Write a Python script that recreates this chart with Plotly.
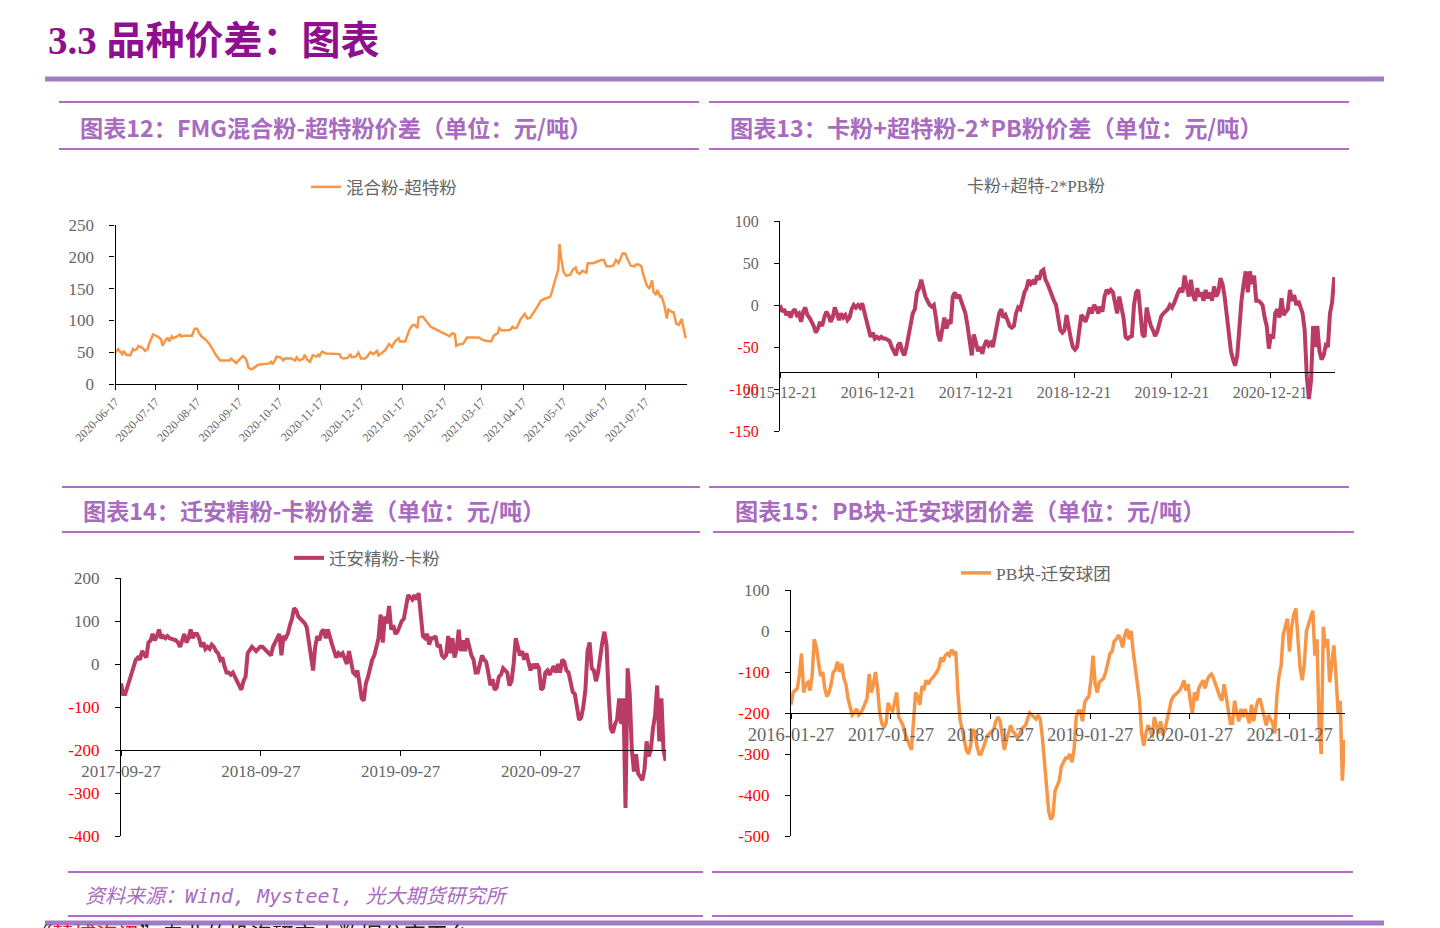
import plotly.graph_objects as go
import pandas as pd

W, H = 1440, 928


def px(x):
    return x / W


def py(y):
    return 1 - y / H


# ---------------- data ----------------
# Chart 12: FMG混合粉-超特粉
c12_dates = [
    "2020-06-17", "2020-06-19", "2020-06-20", "2020-06-22", "2020-06-23", "2020-06-25", "2020-06-28", "2020-06-30",
    "2020-07-01", "2020-07-03", "2020-07-04", "2020-07-07", "2020-07-09", "2020-07-11", "2020-07-12", "2020-07-14",
    "2020-07-15", "2020-07-19", "2020-07-21", "2020-07-22", "2020-07-24", "2020-07-26", "2020-07-27", "2020-07-29",
    "2020-07-30", "2020-08-02", "2020-08-04", "2020-08-05", "2020-08-08", "2020-08-13", "2020-08-15", "2020-08-17",
    "2020-08-18", "2020-08-20", "2020-08-23", "2020-08-26", "2020-08-28", "2020-08-31", "2020-09-03", "2020-09-06",
    "2020-09-10", "2020-09-11", "2020-09-13", "2020-09-15", "2020-09-18", "2020-09-20", "2020-09-22", "2020-09-23",
    "2020-09-24", "2020-09-26", "2020-09-28", "2020-10-01", "2020-10-04", "2020-10-09", "2020-10-11", "2020-10-12",
    "2020-10-14", "2020-10-15", "2020-10-18", "2020-10-20", "2020-10-21", "2020-10-26", "2020-10-29", "2020-10-30",
    "2020-11-01", "2020-11-04", "2020-11-05", "2020-11-07", "2020-11-09", "2020-11-11", "2020-11-14", "2020-11-15",
    "2020-11-16", "2020-11-18", "2020-11-21", "2020-11-26", "2020-12-01", "2020-12-02", "2020-12-04", "2020-12-07",
    "2020-12-09", "2020-12-10", "2020-12-13", "2020-12-15", "2020-12-17", "2020-12-20", "2020-12-22", "2020-12-24",
    "2020-12-26", "2020-12-29", "2020-12-30", "2021-01-01", "2021-01-04", "2021-01-06", "2021-01-07", "2021-01-09",
    "2021-01-11", "2021-01-14", "2021-01-15", "2021-01-19", "2021-01-22", "2021-01-24", "2021-01-26", "2021-01-28",
    "2021-01-29", "2021-02-01", "2021-02-03", "2021-02-05", "2021-02-07", "2021-02-09", "2021-02-12", "2021-02-15",
    "2021-02-18", "2021-02-21", "2021-02-23", "2021-02-25", "2021-02-26", "2021-02-28", "2021-03-03", "2021-03-04",
    "2021-03-06", "2021-03-10", "2021-03-15", "2021-03-17", "2021-03-20", "2021-03-24", "2021-03-26", "2021-03-29",
    "2021-03-30", "2021-04-01", "2021-04-04", "2021-04-07", "2021-04-09", "2021-04-10", "2021-04-12", "2021-04-15",
    "2021-04-18", "2021-04-20", "2021-04-22", "2021-04-25", "2021-04-27", "2021-04-29", "2021-04-30", "2021-05-03",
    "2021-05-07", "2021-05-08", "2021-05-10", "2021-05-11", "2021-05-13", "2021-05-14", "2021-05-15", "2021-05-17",
    "2021-05-19", "2021-05-22", "2021-05-24", "2021-05-26", "2021-05-27", "2021-05-29", "2021-05-31", "2021-06-03",
    "2021-06-04", "2021-06-08", "2021-06-11", "2021-06-14", "2021-06-16", "2021-06-18", "2021-06-21", "2021-06-23",
    "2021-06-25", "2021-06-27", "2021-06-30", "2021-07-02", "2021-07-04", "2021-07-06", "2021-07-09", "2021-07-10",
    "2021-07-12", "2021-07-14", "2021-07-15", "2021-07-17", "2021-07-18", "2021-07-20", "2021-07-22", "2021-07-23",
    "2021-07-25", "2021-07-26", "2021-07-28", "2021-07-29", "2021-07-31", "2021-08-02", "2021-08-03", "2021-08-06",
    "2021-08-07", "2021-08-09", "2021-08-11", "2021-08-13", "2021-08-14", "2021-08-16",
]
c12_values = [
    50, 55, 52, 47, 52, 46, 45, 55,
    53, 55, 60, 57, 52, 55, 63, 75,
    78, 74, 70, 60, 68, 73, 67, 75,
    72, 75, 78, 75, 76, 76, 87, 87,
    81, 75, 70, 63, 55, 45, 37, 37,
    37, 40, 37, 33, 40, 44, 40, 35,
    26, 23, 25, 30, 31, 32, 35, 31,
    38, 43, 42, 37, 40, 40, 37, 42,
    37, 40, 46, 38, 35, 45, 43, 46,
    44, 51, 48, 47, 47, 42, 40, 41,
    47, 42, 43, 49, 40, 40, 44, 50,
    47, 52, 45, 48, 53, 60, 63, 58,
    66, 72, 67, 67, 85, 92, 93, 88,
    105, 106, 101, 95, 90, 88, 85, 82,
    78, 75, 80, 78, 60, 62, 63, 66,
    73, 73, 73, 70, 68, 67, 76, 80,
    88, 84, 84, 85, 90, 88, 88, 102,
    110, 103, 104, 115, 120, 127, 131, 134,
    137, 143, 158, 166, 180, 220, 200, 176,
    170, 172, 180, 183, 176, 173, 178, 175,
    190, 190, 193, 195, 195, 185, 185, 186,
    195, 190, 205, 205, 195, 186, 185, 188,
    188, 185, 175, 160, 155, 150, 163, 145,
    140, 148, 137, 138, 125, 103, 117, 113,
    113, 95, 93, 102, 90, 72,
]
c12_ticks = ["2020-06-17", "2020-07-17", "2020-08-17", "2020-09-17", "2020-10-17", "2020-11-17", "2020-12-17",
             "2021-01-17", "2021-02-17", "2021-03-17", "2021-04-17", "2021-05-17", "2021-06-17", "2021-07-17"]

# Chart 13: 卡粉+超特-2*PB粉 (roughly weekly readings)
c13_start, c13_end = "2015-12-21", "2021-08-17"
c13_values = [
    0, -8, -5, -12, -8, -15, -8, -5, -12, -10, -20, -8, -3, -12, -15, -20, -25, -33, -28, -20,
    -25, -15, -8, -12, -20, -15, -3, -10, -18, -10, -15, -12, -18, -15, -5, 0, -3, 0, -3, 2,
    -8, -20, -30, -38, -33, -40, -38, -40, -38, -40, -40, -42, -43, -50, -55, -60, -48, -45, -55, -60,
    -50, -35, -20, -10, -5, 15, 20, 30, 20, 10, 5, 0, -2, 0, -15, -35, -43, -30, -15, -28,
    -20, -22, 10, 15, 8, 12, 5, -5, -10, -25, -40, -60, -35, -45, -55, -50, -58, -48, -42, -48,
    -45, -50, -35, -20, -10, -5, -15, -12, -20, -25, -27, -25, -10, -3, -5, 5, 15, 20, 30, 25,
    28, 25, 35, 30, 40, 42, 30, 25, 18, 10, 5, 0, -15, -30, -33, -30, -12, -30, -40, -50,
    -53, -50, -30, -12, -15, -20, -12, -3, -10, 0, -3, -10, -2, -8, 10, 18, 15, 18, 15, 0,
    -10, 10, -5, -15, -38, -40, -38, -37, 0, 15, 18, -5, -35, -38, -3, -15, -25, -30, -37, -32,
    -20, -13, -10, -8, -5, 0, -3, 2, 10, 15, 20, 15, 35, 20, 10, 30, 12, 5, 20, 10,
    15, 5, 18, 8, 15, 5, 22, 10, 15, 32, 25, 10, -15, -40, -55, -65, -72, -60, -20, 5,
    25, 40, 15, 40, 25, 35, 5, 5, 3, 0, -15, -25, -52, -35, -40, -10, -5, -15, 8, -12,
    -8, -5, 18, 5, 12, 0, 5, -3, -10, -30, -85, -112, -90, -25, -50, -25, -55, -65, -60, -48,
    -50, -10, 3, 33,
]
c13_ticks = ["2015-12-21", "2016-12-21", "2017-12-21", "2018-12-21", "2019-12-21", "2020-12-21"]
c13_cross = -80

# Chart 14: 迁安精粉-卡粉 (roughly weekly readings)
c14_start, c14_end = "2017-09-27", "2021-08-19"
c14_values = [
    -45, -70, -70, -55, -35, -25, -5, 10, 15, 10, 30, 20, 15, 50, 55, 70, 55, 65, 80, 60,
    65, 60, 65, 60, 58, 55, 55, 50, 40, 55, 70, 50, 60, 80, 60, 70, 70, 60, 40, 50,
    35, 40, 35, 45, 40, 30, 25, 10, 15, -5, -20, -20, -25, -20, -30, -40, -55, -60, -40, -30,
    25, 35, 40, 35, 30, 35, 40, 40, 35, 30, 25, 20, 40, 50, 55, 70, 20, 65, 60, 70,
    90, 105, 130, 125, 110, 105, 100, 95, 85, 50, 20, -15, 40, 65, 55, 75, 80, 60, 80, 60,
    45, 30, 15, 25, 20, 25, 10, 0, 30, 0, -20, -25, -15, -45, -80, -85, -45, -30, -10, 10,
    20, 45, 60, 115, 50, 110, 95, 135, 80, 90, 70, 75, 90, 100, 105, 130, 160, 155, 150, 160,
    150, 165, 110, 65, 60, 70, 45, 60, 60, 65, 40, 45, 20, 15, 20, 65, 25, 60, 15, 35,
    80, 30, 55, 30, 60, 40, 20, 10, -20, -20, 0, 20, 10, 5, -20, -50, -35, -60, -55, -30,
    -25, -10, -15, -20, -50, -40, 0, 60, 40, 20, 30, 10, 25, 5, -15, 0, -10, 0, -10, -60,
    -55, -20, -15, -25, -15, -5, -20, 0, -20, 10, 5, -15, -20, -40, -65, -70, -100, -130, -125, -100,
    -60, 30, 50, -10, -15, -40, -20, 20, 50, 75, 45, -70, -150, -160, -140, -130, -80, -140, -80, -335,
    -10, -70, -200, -250, -210, -255, -265, -270, -245, -180, -215, -200, -150, -120, -50, -180, -80, -200, -225,
]
c14_ticks = ["2017-09-27", "2018-09-27", "2019-09-27", "2020-09-27"]
c14_cross = -200

# Chart 15: PB块-迁安球团 (roughly weekly readings)
c15_start, c15_end = "2016-01-27", "2021-08-16"
c15_values = [
    -180, -150, -145, -140, -105, -55, -150, -130, -125, -145, -110, -20, -40, -70, -110, -100, -140, -160, -150, -130,
    -100, -95, -75, -100, -80, -115, -130, -165, -185, -205, -200, -190, -205, -200, -190, -178, -165, -105, -150, -130,
    -100, -140, -200, -225, -235, -225, -175, -190, -195, -175, -150, -210, -220, -230, -250, -265, -275, -290, -220, -150,
    -160, -180, -135, -140, -120, -130, -120, -115, -108, -100, -90, -65, -75, -60, -55, -60, -45, -55, -50, -150,
    -215, -240, -270, -290, -300, -280, -240, -245, -280, -300, -300, -285, -265, -255, -250, -245, -240, -220, -210, -220,
    -260, -290, -265, -250, -230, -245, -250, -260, -255, -240, -235, -230, -215, -200, -205, -210, -215, -205, -215, -260,
    -320, -400, -440, -460, -450, -390, -375, -365, -330, -320, -310, -310, -300, -320, -290, -210, -195, -195, -220, -175,
    -165, -160, -120, -60, -130, -150, -125, -120, -115, -100, -75, -55, -50, -25, -20, -10, -20, -40, -10, 5,
    -20, 0, -50, -90, -120, -170, -250, -280, -250, -230, -240, -260, -210, -230, -250, -220, -255, -240, -220, -195,
    -170, -160, -155, -150, -145, -135, -120, -145, -130, -170, -200, -150, -170, -140, -130, -120, -140, -120, -110, -105,
    -115, -130, -150, -160, -170, -130, -160, -200, -225, -225, -170, -200, -220, -190, -210, -190, -205, -225, -180, -220,
    -190, -170, -165, -190, -215, -230, -205, -215, -225, -250, -160, -110, -85, -10, 10, 30, -50, 10, 40, 55,
    -20, -90, -120, -80, 0, 15, 35, 50, -60, -20, -230, -300, 10, -40, -20, -125, -80, -35, -110, -200,
    -170, -365, -265,
]
c15_ticks = ["2016-01-27", "2017-01-27", "2018-01-27", "2019-01-27", "2020-01-27", "2021-01-27"]
c15_cross = -200

c13_x = pd.date_range(c13_start, c13_end, periods=len(c13_values))
c14_x = pd.date_range(c14_start, c14_end, periods=len(c14_values))
c15_x = pd.date_range(c15_start, c15_end, periods=len(c15_values))

# ---------------- style ----------------
ORANGE = "#F79646"
CRIMSON = "#BA3B66"
GRAY = "#666666"
RED = "#FF0000"
PURPLE_LINE = "#B36BC6"
HEAD = "#A86BC0"
SERIF = "Liberation Serif, Times New Roman, serif"
CJK = "Noto Sans CJK SC"
LEGFONT = "Liberation Serif, Noto Sans CJK SC"


def red_neg(vals):
    out = []
    for v in vals:
        if v < 0:
            out.append(f'<span style="color:{RED}">{v}</span>')
        else:
            out.append(str(v))
    return out


fig = go.Figure()

fig.add_trace(go.Scatter(x=c12_dates, y=c12_values, mode="lines", name="混合粉-超特粉",
                         line=dict(color=ORANGE, width=2.5), xaxis="x", yaxis="y", legend="legend"))
fig.add_trace(go.Scatter(x=c13_x, y=c13_values, mode="lines", name="卡粉+超特-2*PB粉",
                         line=dict(color=CRIMSON, width=4), xaxis="x2", yaxis="y2", showlegend=False))
fig.add_trace(go.Scatter(x=c14_x, y=c14_values, mode="lines", name="迁安精粉-卡粉",
                         line=dict(color=CRIMSON, width=4), xaxis="x3", yaxis="y3", legend="legend2"))
fig.add_trace(go.Scatter(x=c15_x, y=c15_values, mode="lines", name="PB块-迁安球团",
                         line=dict(color=ORANGE, width=3.5), xaxis="x4", yaxis="y4", legend="legend3"))

# domains (pixels)
d12 = dict(x=[px(115.5), px(687)], y=[py(384), py(225)])
d13 = dict(x=[px(780), px(1335)], y=[py(431), py(221)])
d14 = dict(x=[px(121), px(666)], y=[py(836), py(578)])
d15 = dict(x=[px(791), px(1345)], y=[py(836), py(590)])


def cross_pos(dom, rng, val):
    return dom["y"][0] + (val - rng[0]) / (rng[1] - rng[0]) * (dom["y"][1] - dom["y"][0])


r13 = [-150, 100]
r14 = [-400, 200]
r15 = [-500, 100]

axis_common = dict(showgrid=False, zeroline=False, showline=True, linecolor="black", linewidth=1.3,
                   ticks="outside", ticklen=5, tickcolor="black", automargin=False)

fig.update_layout(
    width=W, height=H, margin=dict(l=0, r=0, t=0, b=0, autoexpand=False),
    paper_bgcolor="white", plot_bgcolor="white",
    xaxis=dict(**axis_common, domain=d12["x"], anchor="y", type="date",
               range=["2020-06-17", "2021-08-17"], tickvals=c12_ticks, ticktext=c12_ticks, tickangle=-45,
               tickfont=dict(family=SERIF, size=12, color=GRAY)),
    yaxis=dict(**axis_common, domain=d12["y"], anchor="x", range=[0, 250],
               tickvals=[0, 50, 100, 150, 200, 250], ticklabelstandoff=12,
               tickfont=dict(family=SERIF, size=17, color=GRAY)),
    xaxis2=dict(**axis_common, domain=d13["x"], anchor="free", position=cross_pos(d13, r13, c13_cross),
                type="date", range=["2015-12-21", "2021-08-20"], tickvals=c13_ticks, ticktext=c13_ticks,
                tickangle=0, tickfont=dict(family=SERIF, size=16, color=GRAY)),
    yaxis2=dict(**axis_common, domain=d13["y"], anchor="x2", range=r13,
                tickvals=[100, 50, 0, -50, -100, -150], ticktext=red_neg([100, 50, 0, -50, -100, -150]),
                ticklabelstandoff=12, tickfont=dict(family=SERIF, size=16, color=GRAY)),
    xaxis3=dict(**axis_common, domain=d14["x"], anchor="free", position=cross_pos(d14, r14, c14_cross),
                type="date", range=["2017-09-27", "2021-08-20"], tickvals=c14_ticks, ticktext=c14_ticks,
                tickangle=0, tickfont=dict(family=SERIF, size=17, color=GRAY)),
    yaxis3=dict(**axis_common, domain=d14["y"], anchor="x3", range=r14,
                tickvals=[200, 100, 0, -100, -200, -300, -400],
                ticktext=red_neg([200, 100, 0, -100, -200, -300, -400]),
                ticklabelstandoff=12, tickfont=dict(family=SERIF, size=17, color=GRAY)),
    xaxis4=dict(**axis_common, domain=d15["x"], anchor="free", position=cross_pos(d15, r15, c15_cross),
                type="date", range=["2016-01-27", "2021-08-18"], tickvals=c15_ticks, ticktext=c15_ticks,
                tickangle=0, tickfont=dict(family=SERIF, size=18.5, color=GRAY)),
    yaxis4=dict(**axis_common, domain=d15["y"], anchor="x4", range=r15,
                tickvals=[100, 0, -100, -200, -300, -400, -500],
                ticktext=red_neg([100, 0, -100, -200, -300, -400, -500]),
                ticklabelstandoff=12, tickfont=dict(family=SERIF, size=17, color=GRAY)),
    legend=dict(x=px(306), y=py(187), xanchor="left", yanchor="middle", orientation="h",
                bgcolor="rgba(0,0,0,0)", font=dict(family=LEGFONT, size=17.5, color=GRAY)),
    legend2=dict(x=px(289), y=py(558), xanchor="left", yanchor="middle", orientation="h",
                 bgcolor="rgba(0,0,0,0)", font=dict(family=LEGFONT, size=17.5, color=GRAY)),
    legend3=dict(x=px(956), y=py(573), xanchor="left", yanchor="middle", orientation="h",
                 bgcolor="rgba(0,0,0,0)", font=dict(family=LEGFONT, size=17.5, color=GRAY)),
)

shapes = []


def hline(x0, x1, y, color, width):
    shapes.append(dict(type="line", xref="paper", yref="paper", x0=px(x0), x1=px(x1), y0=py(y), y1=py(y),
                       line=dict(color=color, width=width)))


# top thick bar
hline(45, 1384, 79, "#A07CC5", 5)
# section rules
hline(59, 699, 102, PURPLE_LINE, 2)
hline(709, 1349, 102, PURPLE_LINE, 2)
hline(59, 699, 149, PURPLE_LINE, 2)
hline(709, 1349, 149, PURPLE_LINE, 2)
hline(62, 700, 487, PURPLE_LINE, 2)
hline(709, 1349, 487, PURPLE_LINE, 2)
hline(62, 700, 532, PURPLE_LINE, 2)
hline(713, 1354, 532, PURPLE_LINE, 2)
hline(68, 703, 872, PURPLE_LINE, 2)
hline(712, 1353, 872, PURPLE_LINE, 2)
hline(68, 703, 916, PURPLE_LINE, 2)
hline(712, 1353, 916, PURPLE_LINE, 2)
fig.update_layout(shapes=shapes)

ann = []


def text(x, y, s, size, color, family=CJK, xanchor="left", bold=False, italic=False):
    d = dict(xref="paper", yref="paper", x=px(x), y=py(y), text=s, showarrow=False,
             xanchor=xanchor, yanchor="middle",
             font=dict(family=family, size=size, color=color,
                       weight="bold" if bold else "normal", style="italic" if italic else "normal"))
    ann.append(d)


text(46, 40, "3.3 品种价差：图表", 39, "#8E108E", family="Liberation Serif, Noto Sans CJK SC", bold=True)
text(78, 127, "图表12：FMG混合粉-超特粉价差（单位：元/吨）", 23.2, HEAD, bold=True)
text(728, 127, "图表13：卡粉+超特粉-2*PB粉价差（单位：元/吨）", 23.2, HEAD, bold=True)
text(81, 510, "图表14：迁安精粉-卡粉价差（单位：元/吨）", 23.2, HEAD, bold=True)
text(733, 510, "图表15：PB块-迁安球团价差（单位：元/吨）", 23.2, HEAD, bold=True)
text(1036, 186, "卡粉+超特-2*PB粉", 17, GRAY, family=LEGFONT, xanchor="center")
text(83, 896, "资料来源：Wind, Mysteel, 光大期货研究所", 20, HEAD, family="DejaVu Sans Mono, Noto Sans CJK SC", italic=True)
text(28, 933, '“<span style="color:#E02020">慧博资讯</span>”专业的投资研究大数据分享平台', 22, "#222222")
fig.update_layout(annotations=ann)

# bottom thick bar drawn above the cut text
fig.add_shape(type="line", xref="paper", yref="paper", x0=px(45), x1=px(1384), y0=py(923), y1=py(923),
              line=dict(color="#A07CC5", width=5), layer="above")

fig.write_html("out.html")
